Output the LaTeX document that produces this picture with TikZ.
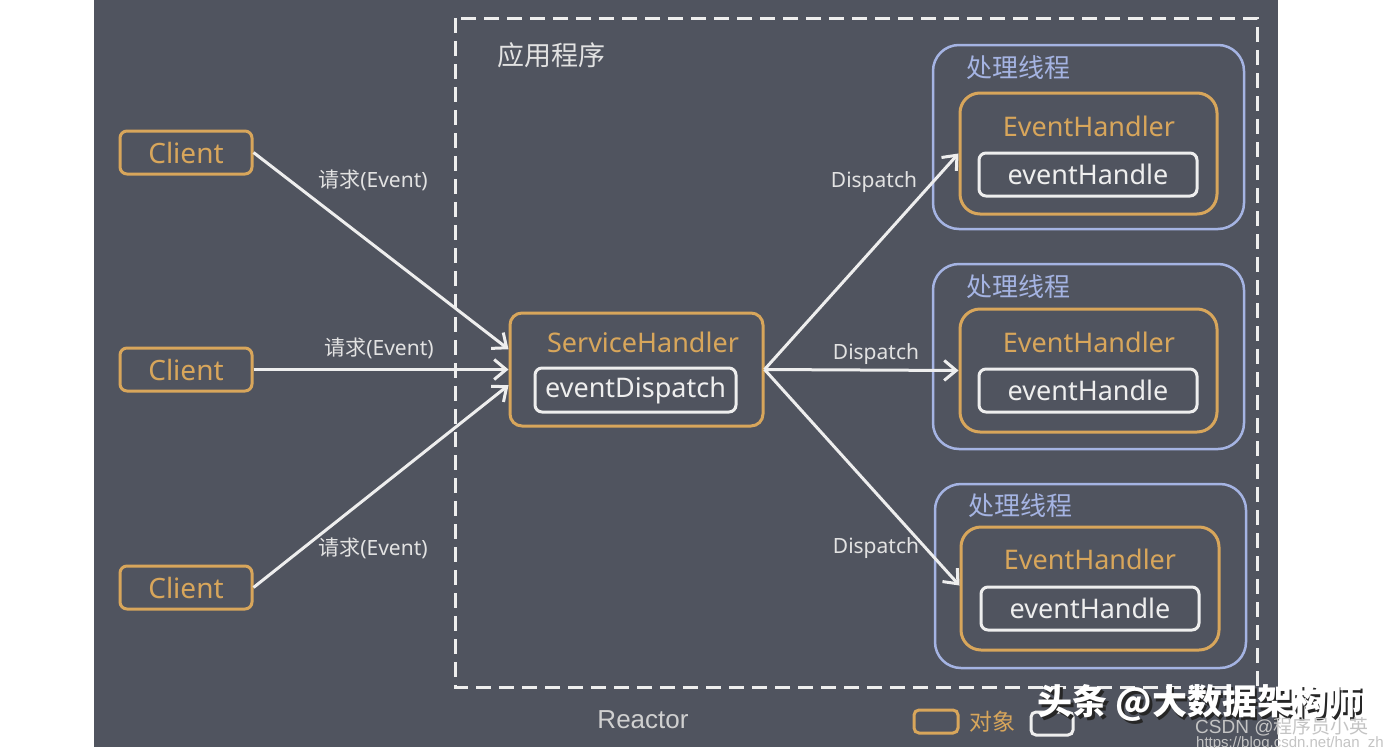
\documentclass[tikz,border=0pt]{standalone}
\usepackage{fontspec}
\setmainfont{Noto Sans}
\newfontfamily\cjk{Noto Sans CJK SC}
\newfontfamily\arialf{Liberation Sans}
\usetikzlibrary{arrows.meta}
\definecolor{bgc}{HTML}{50545F}
\definecolor{org}{HTML}{D8A65B}
\definecolor{blu}{HTML}{A5B4E3}
\definecolor{wln}{HTML}{EEEEEE}
\definecolor{lbl}{HTML}{E2E2E2}
\definecolor{rtx}{HTML}{D0D0D0}
\definecolor{csdn}{HTML}{C4C4C4}
\tikzset{
  obox/.style={draw=org, line width=3pt, rounded corners=7pt, inner sep=0pt},
  wbox/.style={draw=wln, line width=3pt, rounded corners=7pt, inner sep=0pt, text=wln,
    font=\fontsize{27}{29}\selectfont},
  clientbox/.style={obox, minimum width=132pt, minimum height=43pt, text=org,
    font=\fontsize{28}{30}\selectfont},
  thread/.style={draw=blu, line width=2.5pt, rounded corners=26pt, inner sep=0pt,
    minimum width=311pt},
  ehbox/.style={obox, rounded corners=20pt, minimum width=257pt, minimum height=122pt},
  otext/.style={text=org, inner sep=0pt, font=\fontsize{27}{29}\selectfont},
  ttext/.style={text=blu, inner sep=0pt, anchor=west, font=\cjk\fontsize{26}{28}\selectfont},
  lbltext/.style={text=lbl, inner sep=0pt, font=\fontsize{21}{23}\selectfont},
  arr/.style={draw=wln, line width=3pt, -{Straight Barb[length=12pt,width=20pt]}},
}
\begin{document}
\begin{tikzpicture}[x=1pt,y=-1pt]
\useasboundingbox (0,0) rectangle (1383,747);
\fill[white] (0,0) rectangle (1383,747);
\fill[bgc] (94,0) rectangle (1278,747);
\draw[wln, line width=3pt, dash pattern=on 15pt off 8pt] (455,18) rectangle (1257,687);
\node[text=lbl, inner sep=0pt, font=\cjk\fontsize{27}{29}\selectfont] (app) at (551,55) {应用程序};

% clients
\node[clientbox] (c1) at (186,152.5) {Client};
\node[clientbox] (c2) at (186,369.5) {Client};
\node[clientbox] (c3) at (186,587.5) {Client};

% service handler
\node[obox, rounded corners=12pt, minimum width=253pt, minimum height=113pt] (sh) at (636.5,369.5) {};
\node[otext] (shtitle) at (643,342) {ServiceHandler};
\node[wbox, minimum width=201pt, minimum height=44pt] (ed) at (635.5,390) {eventDispatch};

% threads
\node[thread, minimum height=184pt] (t1) at (1088.5,137) {};
\node[thread, minimum height=185pt] (t2) at (1088.5,356.5) {};
\node[thread, minimum height=184pt] (t3) at (1090.5,576) {};
\node[ttext] (tt1) at (966,68) {处理线程};
\node[ttext] (tt2) at (966,287) {处理线程};
\node[ttext] (tt3) at (968,506) {处理线程};

\node[ehbox, minimum height=121pt] (eh1) at (1088.5,153.5) {};
\node[ehbox, minimum height=123pt] (eh2) at (1088.5,370.5) {};
\node[ehbox, minimum width=258pt, minimum height=123pt] (eh3) at (1090,588.5) {};
\node[otext] (et1) at (1089,126) {EventHandler};
\node[otext] (et2) at (1089,342) {EventHandler};
\node[otext] (et3) at (1090,559) {EventHandler};
\node[wbox, minimum width=218pt, minimum height=43pt] (h1) at (1088,174.5) {eventHandle};
\node[wbox, minimum width=218pt, minimum height=43pt] (h2) at (1088,390.5) {eventHandle};
\node[wbox, minimum width=218pt, minimum height=43pt] (h3) at (1090,608.5) {eventHandle};

% connectors
\draw[arr] (c1.east) -- (sh.171);
\draw[arr] (c2.east) -- (sh.west);
\draw[arr] (c3.east) -- (sh.187);
\draw[arr] (sh.east) -- (eh1.west);
\draw[arr] (sh.east) -- (eh2.west);
\draw[arr] (sh.east) -- ([yshift=3pt]eh3.west);

% labels
\node[lbltext] (l1) at (373,180) {{\cjk 请求}(Event)};
\node[lbltext] (l2) at (379,348) {{\cjk 请求}(Event)};
\node[lbltext] (l3) at (373,548) {{\cjk 请求}(Event)};
\node[lbltext] (d1) at (874,182) {Dispatch};
\node[lbltext] (d2) at (876,354) {Dispatch};
\node[lbltext] (d3) at (876,548) {Dispatch};

% bottom
\node[text=rtx, inner sep=0pt, font=\arialf\fontsize{26}{28}\selectfont] (reactor) at (643,720) {Reactor};
\node[obox, rounded corners=5pt, minimum width=44pt, minimum height=23pt] (lg1) at (936,721.5) {};
\node[text=org, inner sep=0pt, font=\cjk\fontsize{23}{25}\selectfont] (lgt) at (992,722) {对象};
\node[draw=wln, line width=3pt, rounded corners=5pt, inner sep=0pt, minimum width=42pt, minimum height=23pt] (lg2) at (1052,723.5) {};

% watermark
\node[text=black!85, inner sep=0pt, font=\cjk\bfseries\fontsize{35}{37}\selectfont] (wms) at (1202.5,705.5) {头条 @大数据架构师};
\node[text=white, inner sep=0pt, font=\cjk\bfseries\fontsize{35}{37}\selectfont] (wm) at (1200,703) {头条 @大数据架构师};
\node[text=csdn, inner sep=0pt, anchor=west, font=\arialf\fontsize{19}{21}\selectfont] (cs) at (1195,727) {CSDN @{\cjk 程序员小英}};
\node[text=csdn, inner sep=0pt, anchor=west, font=\arialf\fontsize{15}{17}\selectfont] (url) at (1196,744) {https://blog.csdn.net/han\_zhu};
\end{tikzpicture}
\end{document}
